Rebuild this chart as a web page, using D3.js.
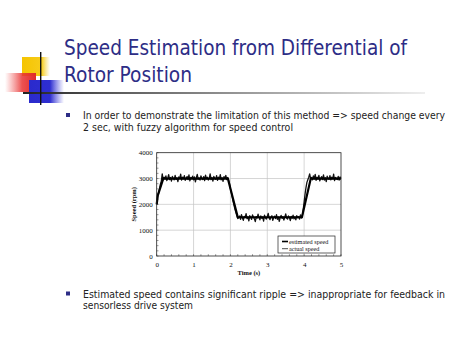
<!DOCTYPE html>
<html><head><meta charset="utf-8">
<script src="https://cdn.jsdelivr.net/npm/d3@7"></script>
<style>
html,body{margin:0;padding:0;background:#fff;}
svg{display:block;}
</style></head>
<body>
<svg id="slide" width="474" height="355"></svg>
<script>
// ---------- data ----------
const titleLines = ["Speed Estimation from Differential of", "Rotor Position"];
const bullet1Lines = ["In order to demonstrate the limitation of this method => speed change every", "2 sec, with fuzzy algorithm for speed control"];
const bullet2Lines = ["Estimated speed contains significant ripple => inappropriate for feedback in", "sensorless drive system"];

const xTicks = [0, 1, 2, 3, 4, 5];
const yTicks = [0, 1000, 2000, 3000, 4000];
const xLabel = "Time (s)";
const yLabel = "Speed (rpm)";
const legendLabels = ["estimated speed", "actual speed"];

// actual speed (reference trajectory)
const actualTime  = [0, 0.03, 0.18, 1.93, 2.2, 3.94, 4.18, 5];
const actualSpeed = [2000, 2350, 3000, 3000, 1500, 1500, 3000, 3000];

// estimated speed, sampled every 0.025 s from t = 0
const estStep = 0.025;
const estSpeed = [
  2000,2350,2420,2600,2780,2900,3180,2950,
  3050,2980,3100,2920,3020,3150,2960,3040,2900,3080,
  3010,2950,3120,2970,3030,2880,3060,3000,3170,2940,
  3050,2990,3110,2930,3020,3080,2960,3140,2910,3040,
  3000,3090,2950,3060,2870,3030,3160,2980,3020,2940,
  3100,3010,2960,3070,2920,3130,2990,3050,2940,3010,
  3180,2960,3040,2900,3080,3020,2970,3110,2930,3050,
  2990,3150,2950,3030,2890,3070,3000,3120,2960,3040,
  2950,2800,2600,2450,2280,2100,1950,1800,1680,1560,1450,
  1480,1550,1420,1600,1470,1380,1530,1490,1640,1450,
  1510,1360,1560,1480,1420,1590,1500,1440,1330,1520,
  1470,1620,1490,1400,1550,1460,1510,1350,1580,1480,
  1430,1530,1650,1470,1410,1500,1560,1380,1490,1540,
  1450,1600,1420,1510,1340,1480,1570,1460,1520,1390,
  1500,1630,1470,1430,1550,1490,1370,1530,1460,1580,
  1440,1510,1400,1560,1480,1520,1430,1590,1470,
  1550,1800,2100,2400,2650,2850,2950,3050,3180,3000,
  3040,2950,3100,2990,3160,2930,3050,2980,3120,2910,
  3020,3070,2960,3140,2940,3030,2880,3090,3000,2970,
  3110,2950,3050,2990,3170,2920,3040,3010,2960,3080,
  2940,3060,3000
];

// ---------- drawing ----------
const svg = d3.select("#slide");
const defs = svg.append("defs");
const sans = "DejaVu Sans Condensed, DejaVu Sans, Verdana, sans-serif";

function grad(id, stops) {
  const g = defs.append("linearGradient").attr("id", id)
    .attr("x1", "0%").attr("x2", "100%").attr("y1", "0%").attr("y2", "0%");
  stops.forEach(s => g.append("stop").attr("offset", s[0]).attr("stop-color", s[1]).attr("stop-opacity", s[2]));
}
grad("gYellow", [["0%", "#f5c400", 1], ["70%", "#f7cc1a", 1], ["100%", "#f9d640", 0]]);
grad("gRed", [["0%", "#f05050", 0], ["55%", "#e83333", 0.85], ["100%", "#e02a2a", 1]]);
grad("gBlue", [["0%", "#2a2acc", 1], ["60%", "#2e2ed0", 1], ["100%", "#5050e0", 0]]);
grad("gRule", [["0%", "#222", 1], ["20%", "#555", 1], ["55%", "#999", 1], ["100%", "#eee", 1]]);

// decoration
svg.append("rect").attr("x", 22).attr("y", 57).attr("width", 28).attr("height", 19).attr("fill", "url(#gYellow)");
svg.append("rect").attr("x", 5).attr("y", 73).attr("width", 31).attr("height", 19).attr("fill", "url(#gRed)");
svg.append("rect").attr("x", 29).attr("y", 80).attr("width", 35).attr("height", 23).attr("fill", "url(#gBlue)");
svg.append("rect").attr("x", 23).attr("y", 92).attr("width", 402).attr("height", 2).attr("fill", "url(#gRule)");
svg.append("line").attr("x1", 40.7).attr("x2", 40.7).attr("y1", 52).attr("y2", 105)
  .attr("stroke", "#111").attr("stroke-width", 1.4);

// fit a text to a target width: shrink font if natural width is wider, then set textLength
function fitText(sel, target) {
  const w = sel.node().getComputedTextLength();
  if (w > target) {
    const fs = parseFloat(sel.attr("font-size"));
    sel.attr("font-size", fs * Math.max(target / w, 0.9));
  }
  sel.attr("textLength", target).attr("lengthAdjust", "spacingAndGlyphs");
}

// title
const titleW = [343, 128];
const titleY = [55, 82];
titleLines.forEach((t, i) => {
  const tx = svg.append("text").attr("x", 64).attr("y", titleY[i]).text(t)
    .attr("font-family", sans).attr("font-size", 21).attr("fill", "#2d2d86");
  fitText(tx, titleW[i]);
});

// bullets
function bullet(lines, y0, widths) {
  svg.append("rect").attr("x", 66).attr("y", y0 - 6).attr("width", 4).attr("height", 4).attr("fill", "#2d2d86");
  lines.forEach((t, i) => {
    const tx = svg.append("text").attr("x", 83).attr("y", y0 + i * 11.5).text(t)
      .attr("font-family", sans).attr("font-size", 10.5).attr("fill", "#222");
    fitText(tx, widths[i]);
  });
}
bullet(bullet1Lines, 119, [362, 210]);
bullet(bullet2Lines, 297.5, [362, 110]);

// chart
const x = d3.scaleLinear().domain([0, 5]).range([156.7, 341]);
const y = d3.scaleLinear().domain([0, 4000]).range([256, 152.7]);
const chart = svg.append("g");
const serif = "Liberation Serif, Times New Roman, serif";

// grid
chart.append("g").selectAll("line").data(xTicks.slice(1, -1)).join("line")
  .attr("x1", d => x(d)).attr("x2", d => x(d)).attr("y1", y(0)).attr("y2", y(4000))
  .attr("stroke", "#c4c4c4").attr("stroke-width", 0.7);
chart.append("g").selectAll("line").data(yTicks.slice(1, -1)).join("line")
  .attr("y1", d => y(d)).attr("y2", d => y(d)).attr("x1", x(0)).attr("x2", x(5))
  .attr("stroke", "#c4c4c4").attr("stroke-width", 0.7);

// axes
const yAxis = d3.axisLeft(y).tickValues(yTicks).tickSize(0).tickPadding(4).tickFormat(d3.format("d"));
const gy = chart.append("g").attr("transform", `translate(${x(0)},0)`).call(yAxis);
gy.select(".domain").remove();
gy.selectAll("text").attr("font-family", serif).attr("font-size", 7).attr("fill", "#111");
const xAxis = d3.axisBottom(x).tickValues(xTicks).tickSize(0).tickPadding(6).tickFormat(d3.format("d"));
const gx = chart.append("g").attr("transform", `translate(0,${y(0)})`).call(xAxis);
gx.select(".domain").remove();
gx.selectAll("text").attr("font-family", serif).attr("font-size", 7).attr("fill", "#111");

// minor ticks
chart.append("g").selectAll("line").data(d3.range(0, 4001, 200)).join("line")
  .attr("x1", x(0)).attr("x2", x(0) + 1.8).attr("y1", d => y(d)).attr("y2", d => y(d))
  .attr("stroke", "#333").attr("stroke-width", 0.5);
chart.append("g").selectAll("line").data(d3.range(0, 5.01, 0.2)).join("line")
  .attr("y1", y(0)).attr("y2", y(0) - 1.8).attr("x1", d => x(d)).attr("x2", d => x(d))
  .attr("stroke", "#333").attr("stroke-width", 0.5);

// series
const actualPts = actualTime.map((t, i) => [t, actualSpeed[i]]);
const estPts = estSpeed.map((v, i) => [i * estStep, v]);
const line = d3.line().x(d => x(d[0])).y(d => y(d[1]));
chart.append("path").attr("d", line(estPts)).attr("fill", "none")
  .attr("stroke", "#111").attr("stroke-width", 1.3).attr("stroke-linejoin", "round");
chart.append("path").attr("d", line(actualPts)).attr("fill", "none")
  .attr("stroke", "#000").attr("stroke-width", 2.2);

// frame
chart.append("rect").attr("x", x(0)).attr("y", y(4000)).attr("width", x(5) - x(0)).attr("height", y(0) - y(4000))
  .attr("fill", "none").attr("stroke", "#222").attr("stroke-width", 0.8);

// axis titles
chart.append("text").attr("x", (x(0) + x(5)) / 2).attr("y", 275).attr("text-anchor", "middle")
  .attr("font-family", serif).attr("font-size", 6.5).attr("font-weight", "bold").attr("fill", "#111").text(xLabel);
chart.append("text").attr("transform", `translate(136,${(y(0) + y(4000)) / 2}) rotate(-90)`).attr("text-anchor", "middle")
  .attr("font-family", serif).attr("font-size", 6.5).attr("font-weight", "bold").attr("fill", "#111").text(yLabel);

// legend
const lg = chart.append("g");
lg.append("rect").attr("x", 278).attr("y", 236).attr("width", 57).attr("height", 17)
  .attr("fill", "#fff").attr("stroke", "#222").attr("stroke-width", 0.7);
legendLabels.forEach((t, i) => {
  const yy = 241.5 + i * 7.2;
  lg.append("line").attr("x1", 282).attr("x2", 288).attr("y1", yy).attr("y2", yy)
    .attr("stroke", "#000").attr("stroke-width", i === 0 ? 1.6 : 0.7);
  lg.append("text").attr("x", 289).attr("y", yy + 2).text(t)
    .attr("font-family", serif).attr("font-size", 6.2).attr("fill", "#111");
});
</script>
</body></html>
